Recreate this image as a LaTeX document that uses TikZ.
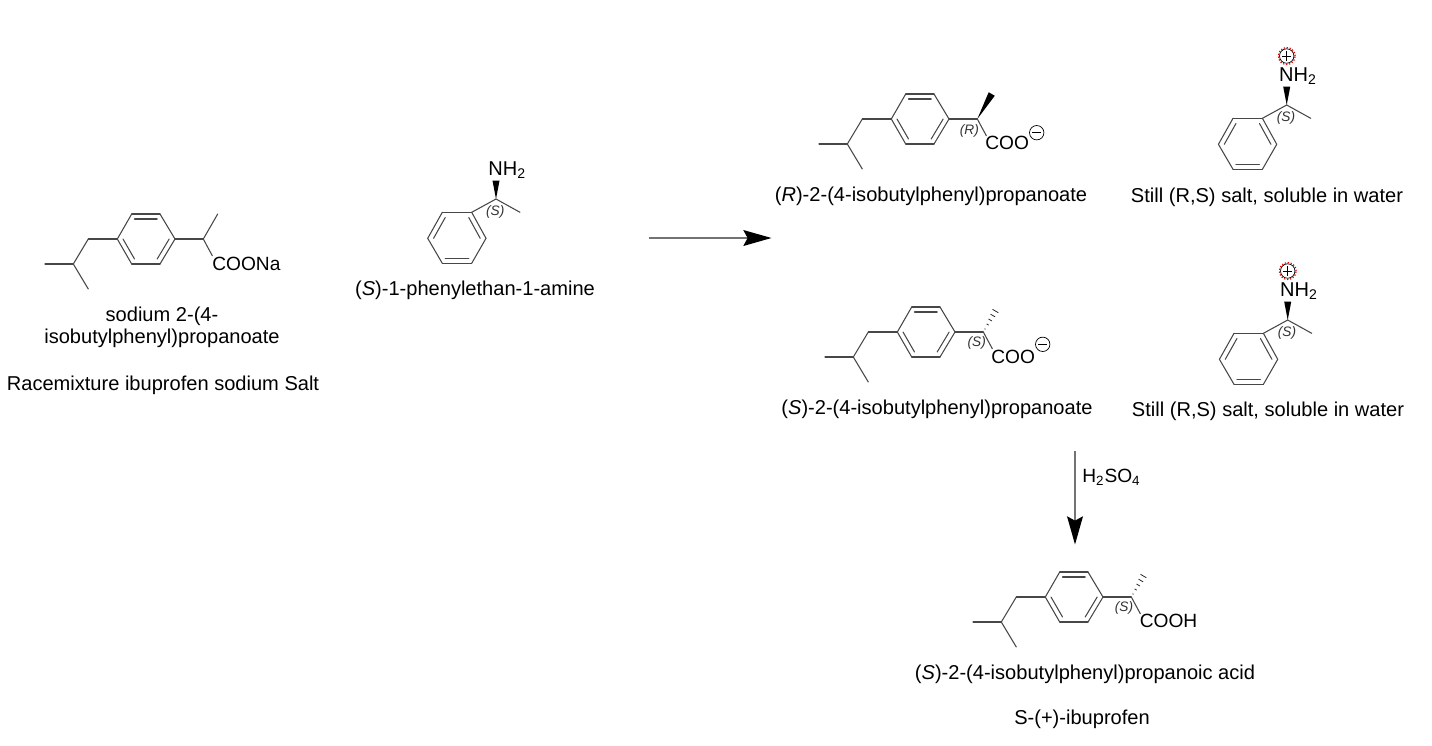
\documentclass[tikz,border=0pt]{standalone}
\usepackage{fontspec}
\setmainfont{Liberation Sans}
\usepackage{tikz}
\usetikzlibrary{calc,arrows.meta}
\tikzstyle{atom}=[coordinate]
\tikzstyle{bond}=[line width=0.6pt,black!72,line cap=round]
\tikzstyle{lbl}=[inner sep=0pt,font=\fontsize{11.42}{12.5}\selectfont,align=center]
\tikzstyle{chemlbl}=[inner sep=0pt,anchor=west,font=\fontsize{10.9}{13}\selectfont]
\tikzstyle{aminelbl}=[inner sep=0pt,anchor=west,font=\fontsize{11.4}{13}\selectfont]
\tikzstyle{stereo}=[inner sep=0pt,font=\fontsize{7.8}{9}\selectfont\itshape,black!80]
\tikzstyle{charge}=[shape=circle,draw,line width=0.4pt,minimum size=8.2pt,inner sep=0pt]
\tikzstyle{selring}=[shape=circle,draw=red!90!black,densely dotted,line width=0.7pt,minimum size=9.6pt,inner sep=0pt]
\tikzstyle{to}=[line width=1pt,black!55,-{Stealth[length=16pt,width=9pt,inset=2.4pt,black]}]
% inner line of a double bond, pulled toward the ring centre
\newcommand{\innerbond}[3]{\draw[bond] ($(#1)!0.2!(#3)$) -- ($(#2)!0.2!(#3)$);}
\newcommand{\wedgebond}[2]{\fill[black] (#1) -- ($(#2)!2pt!90:(#1)$) -- ($(#2)!2pt!-90:(#1)$) -- cycle;}
\newcommand{\hashbond}[2]{
    \foreach \t/\w in {0.12/0.3pt,0.3/0.7pt,0.48/1.1pt,0.66/1.5pt,0.84/1.9pt,1/2.3pt}
        \draw[line width=0.45pt,black!85] ($(#1)!\t!(#2)!\w!90:(#2)$) -- ($(#1)!\t!(#2)!\w!-90:(#2)$);
}
% isobutylphenyl skeleton, #1 is the name prefix, shifted so that the end methyl is at (#2,#3)
\newcommand{\ibuskel}[3]{
    \begin{scope}[shift={(#2,#3)}]
        \node[atom] (#1me) at (0, 0) {};
        \node[atom] (#1ch) at (28.3, 0) {}
            edge[bond] (#1me);
        \node[atom] (#1mf) at (43.3, 25) {}
            edge[bond] (#1ch);
        \node[atom] (#1cb) at (43.3, -25) {}
            edge[bond] (#1ch);
        \node[atom] (#1ra) at (72.3, -25) {}
            edge[bond] (#1cb);
        \node[atom] (#1rb) at (86.7, -50) {}
            edge[bond] (#1ra);
        \node[atom] (#1rc) at (115, -50) {}
            edge[bond] (#1rb);
        \node[atom] (#1rd) at (130, -25) {}
            edge[bond] (#1rc);
        \node[atom] (#1re) at (115, 0) {}
            edge[bond] (#1rd);
        \node[atom] (#1rf) at (86.7, 0) {}
            edge[bond] (#1re)
            edge[bond] (#1ra);
        \node[atom] (#1mid) at (100.8, -25) {};
        \innerbond{#1rb}{#1rc}{#1mid}
        \innerbond{#1rd}{#1re}{#1mid}
        \innerbond{#1rf}{#1ra}{#1mid}
        \node[atom] (#1ca) at (158.3, -25) {}
            edge[bond] (#1rd);
        \node[atom] (#1ox) at (167.3, -8.3) {}
            edge[bond] (#1ca);
        \node[atom] (#1tip) at (172.7, -50) {};
    \end{scope}
}
% phenylethyl amine part, prefix #1, stereo carbon at (#2,#3)
\newcommand{\amineskel}[3]{
    \begin{scope}[shift={(#2,#3)}]
        \node[atom] (#1ca) at (0, 0) {};
        \node[atom] (#1me) at (24, 13.3) {}
            edge[bond] (#1ca);
        \node[atom] (#1tip) at (0, -18.3) {};
        \node[atom] (#1ra) at (-24.3, 13.3) {}
            edge[bond] (#1ca);
        \node[atom] (#1rb) at (-53.7, 13.3) {}
            edge[bond] (#1ra);
        \node[atom] (#1rc) at (-68.3, 39.3) {}
            edge[bond] (#1rb);
        \node[atom] (#1rd) at (-53.7, 64.3) {}
            edge[bond] (#1rc);
        \node[atom] (#1re) at (-24.3, 64.3) {}
            edge[bond] (#1rd);
        \node[atom] (#1rf) at (-10, 39.3) {}
            edge[bond] (#1re)
            edge[bond] (#1ra);
        \node[atom] (#1mid) at (-39, 39.3) {};
        \innerbond{#1rb}{#1rc}{#1mid}
        \innerbond{#1rd}{#1re}{#1mid}
        \innerbond{#1rf}{#1ra}{#1mid}
        \wedgebond{#1ca}{#1tip}
        \node[aminelbl] (#1nh) at (-8, -29) {NH\textsubscript{2}};
        \node[stereo] (#1st) at (-0.7, 12.7) {(S)};
    \end{scope}
}
\newcommand{\minuscharge}[3]{
    \node[charge] (#1) at (#2, #3) {};
    \draw[line width=0.4pt] ($(#1.west)!0.2!(#1.east)$) -- ($(#1.east)!0.2!(#1.west)$);
}
\newcommand{\pluscharge}[3]{
    \node[selring] (#1s) at (#2, #3) {};
    \node[charge] (#1) at (#2, #3) {};
    \draw[line width=0.4pt] ($(#1.west)!0.2!(#1.east)$) -- ($(#1.east)!0.2!(#1.west)$);
    \draw[line width=0.4pt] ($(#1.north)!0.2!(#1.south)$) -- ($(#1.south)!0.2!(#1.north)$);
}
\begin{document}
\begin{tikzpicture}[x=0.02cm,y=-0.02cm]
    \useasboundingbox (0, 0) rectangle (1432, 745);
    % racemic salt
    \ibuskel{p}{45}{264}
    \draw[bond] (pca) -- (ptip);
    \node[chemlbl] (pcooh) at (212, 264) {COONa};
    \node[lbl] (pname) at (162, 327) {sodium 2-(4-\\isobutylphenyl)propanoate};
    \node[lbl] (pnote) at (163, 385) {Racemixture ibuprofen sodium Salt};
    % amine
    \amineskel{q}{496}{199}
    \node[lbl] (qname) at (475, 290) {(\textit{S})-1-phenylethan-1-amine};
    % R salt
    \ibuskel{r}{819}{144}
    \wedgebond{rca}{rtip}
    \node[stereo] (rst) at (969.3, 130.7) {(R)};
    \node[chemlbl] (rcoo) at (985, 143.3) {COO};
    \minuscharge{rchg}{1036.7}{132.7}
    \node[lbl] (rname) at (931, 196) {(\textit{R})-2-(4-isobutylphenyl)propanoate};
    \amineskel{s}{1286.7}{105}
    \pluscharge{schg}{1286.7}{56}
    \node[lbl] (sname) at (1267, 197) {Still (R,S) salt, soluble in water};
    % S salt
    \ibuskel{t}{825}{357}
    \hashbond{tca}{ttip}
    \node[stereo] (tst) at (976.7, 342.7) {(S)};
    \node[chemlbl] (tcoo) at (991, 356.7) {COO};
    \minuscharge{tchg}{1042.7}{344.3}
    \node[lbl] (tname) at (937, 409) {(\textit{S})-2-(4-isobutylphenyl)propanoate};
    \amineskel{u}{1287.7}{320}
    \pluscharge{uchg}{1287.7}{271}
    \node[lbl] (uname) at (1268, 411) {Still (R,S) salt, soluble in water};
    % free acid
    \ibuskel{v}{973}{622}
    \hashbond{vca}{vtip}
    \node[stereo] (vst) at (1124, 608.3) {(S)};
    \node[chemlbl] (vcooh) at (1139.5, 621) {COOH};
    \node[lbl] (vname) at (1085, 674) {(\textit{S})-2-(4-isobutylphenyl)propanoic acid};
    \node[lbl] (vnote) at (1082, 719) {S-(+)-ibuprofen};
    % arrows
    \node[atom] (a1) at (649, 238) {};
    \node[atom] (a2) at (771.5, 238) {};
    \draw[to] (a1) -- (a2);
    \node[atom] (b1) at (1075, 451) {};
    \node[atom] (b2) at (1075, 544.5) {};
    \draw[to] (b1) -- (b2);
    \node[chemlbl] (acid) at (1082, 477) {H\textsubscript{2}SO\textsubscript{4}};
\end{tikzpicture}
\end{document}
